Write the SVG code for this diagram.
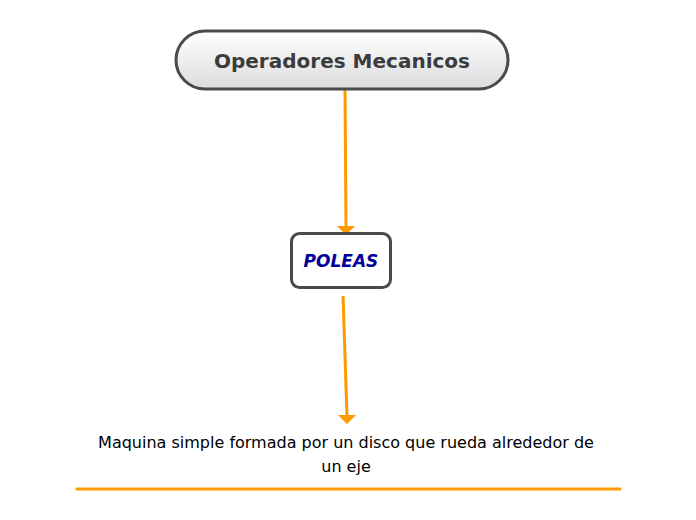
<svg xmlns="http://www.w3.org/2000/svg" width="696" height="520" viewBox="0 0 696 520">
<defs>
<linearGradient id="g" x1="0" y1="0" x2="0" y2="1"><stop offset="0" stop-color="#ffffff"/><stop offset="1" stop-color="#dcdcdc"/></linearGradient>
<marker id="ah" markerWidth="18" markerHeight="10" refX="9" refY="9" orient="auto" markerUnits="userSpaceOnUse" viewBox="0 0 18 10"><path d="M0,0 L18,0 L9,10 Z" fill="#ff9900" transform="translate(0,0)"/></marker>
</defs>
<style>
.c{stroke:#ff9900;stroke-width:3;fill:none}
text{font-family:"DejaVu Sans",sans-serif;text-anchor:middle}
</style>
<g id="connectors">
<path class="c" d="M345,90 L346,227"/>
<path d="M337,226 L355,226 L346,235 Z" fill="#ff9900"/>
<path class="c" d="M343,296 L347,416"/>
<path d="M338,415 L356,415 L347,424 Z" fill="#ff9900"/>
<path class="c" d="M77,489 L620,489" stroke-linecap="round"/>
</g>
<g id="n1">
<rect x="176" y="31" width="332" height="58" rx="29" fill="url(#g)" stroke="#4a4a4a" stroke-width="3"/>
<text x="342" y="68" font-size="20" font-weight="bold" fill="#3c3c3c">Operadores Mecanicos</text>
</g>
<g id="n2">
<rect x="291.500" y="233.500" width="99" height="54" rx="8" fill="#fff" stroke="#4a4a4a" stroke-width="3"/>
<text x="341" y="267" font-size="17" font-weight="bold" font-style="italic" fill="#000099">POLEAS</text>
</g>
<g id="n3">
<text x="346" y="448" font-size="16" fill="#000" font-family="Open Sans">Maquina simple formada por un disco que rueda alrededor de</text>
<text x="346" y="472" font-size="16" fill="#000" font-family="Open Sans">un eje</text>
</g>
</svg>
